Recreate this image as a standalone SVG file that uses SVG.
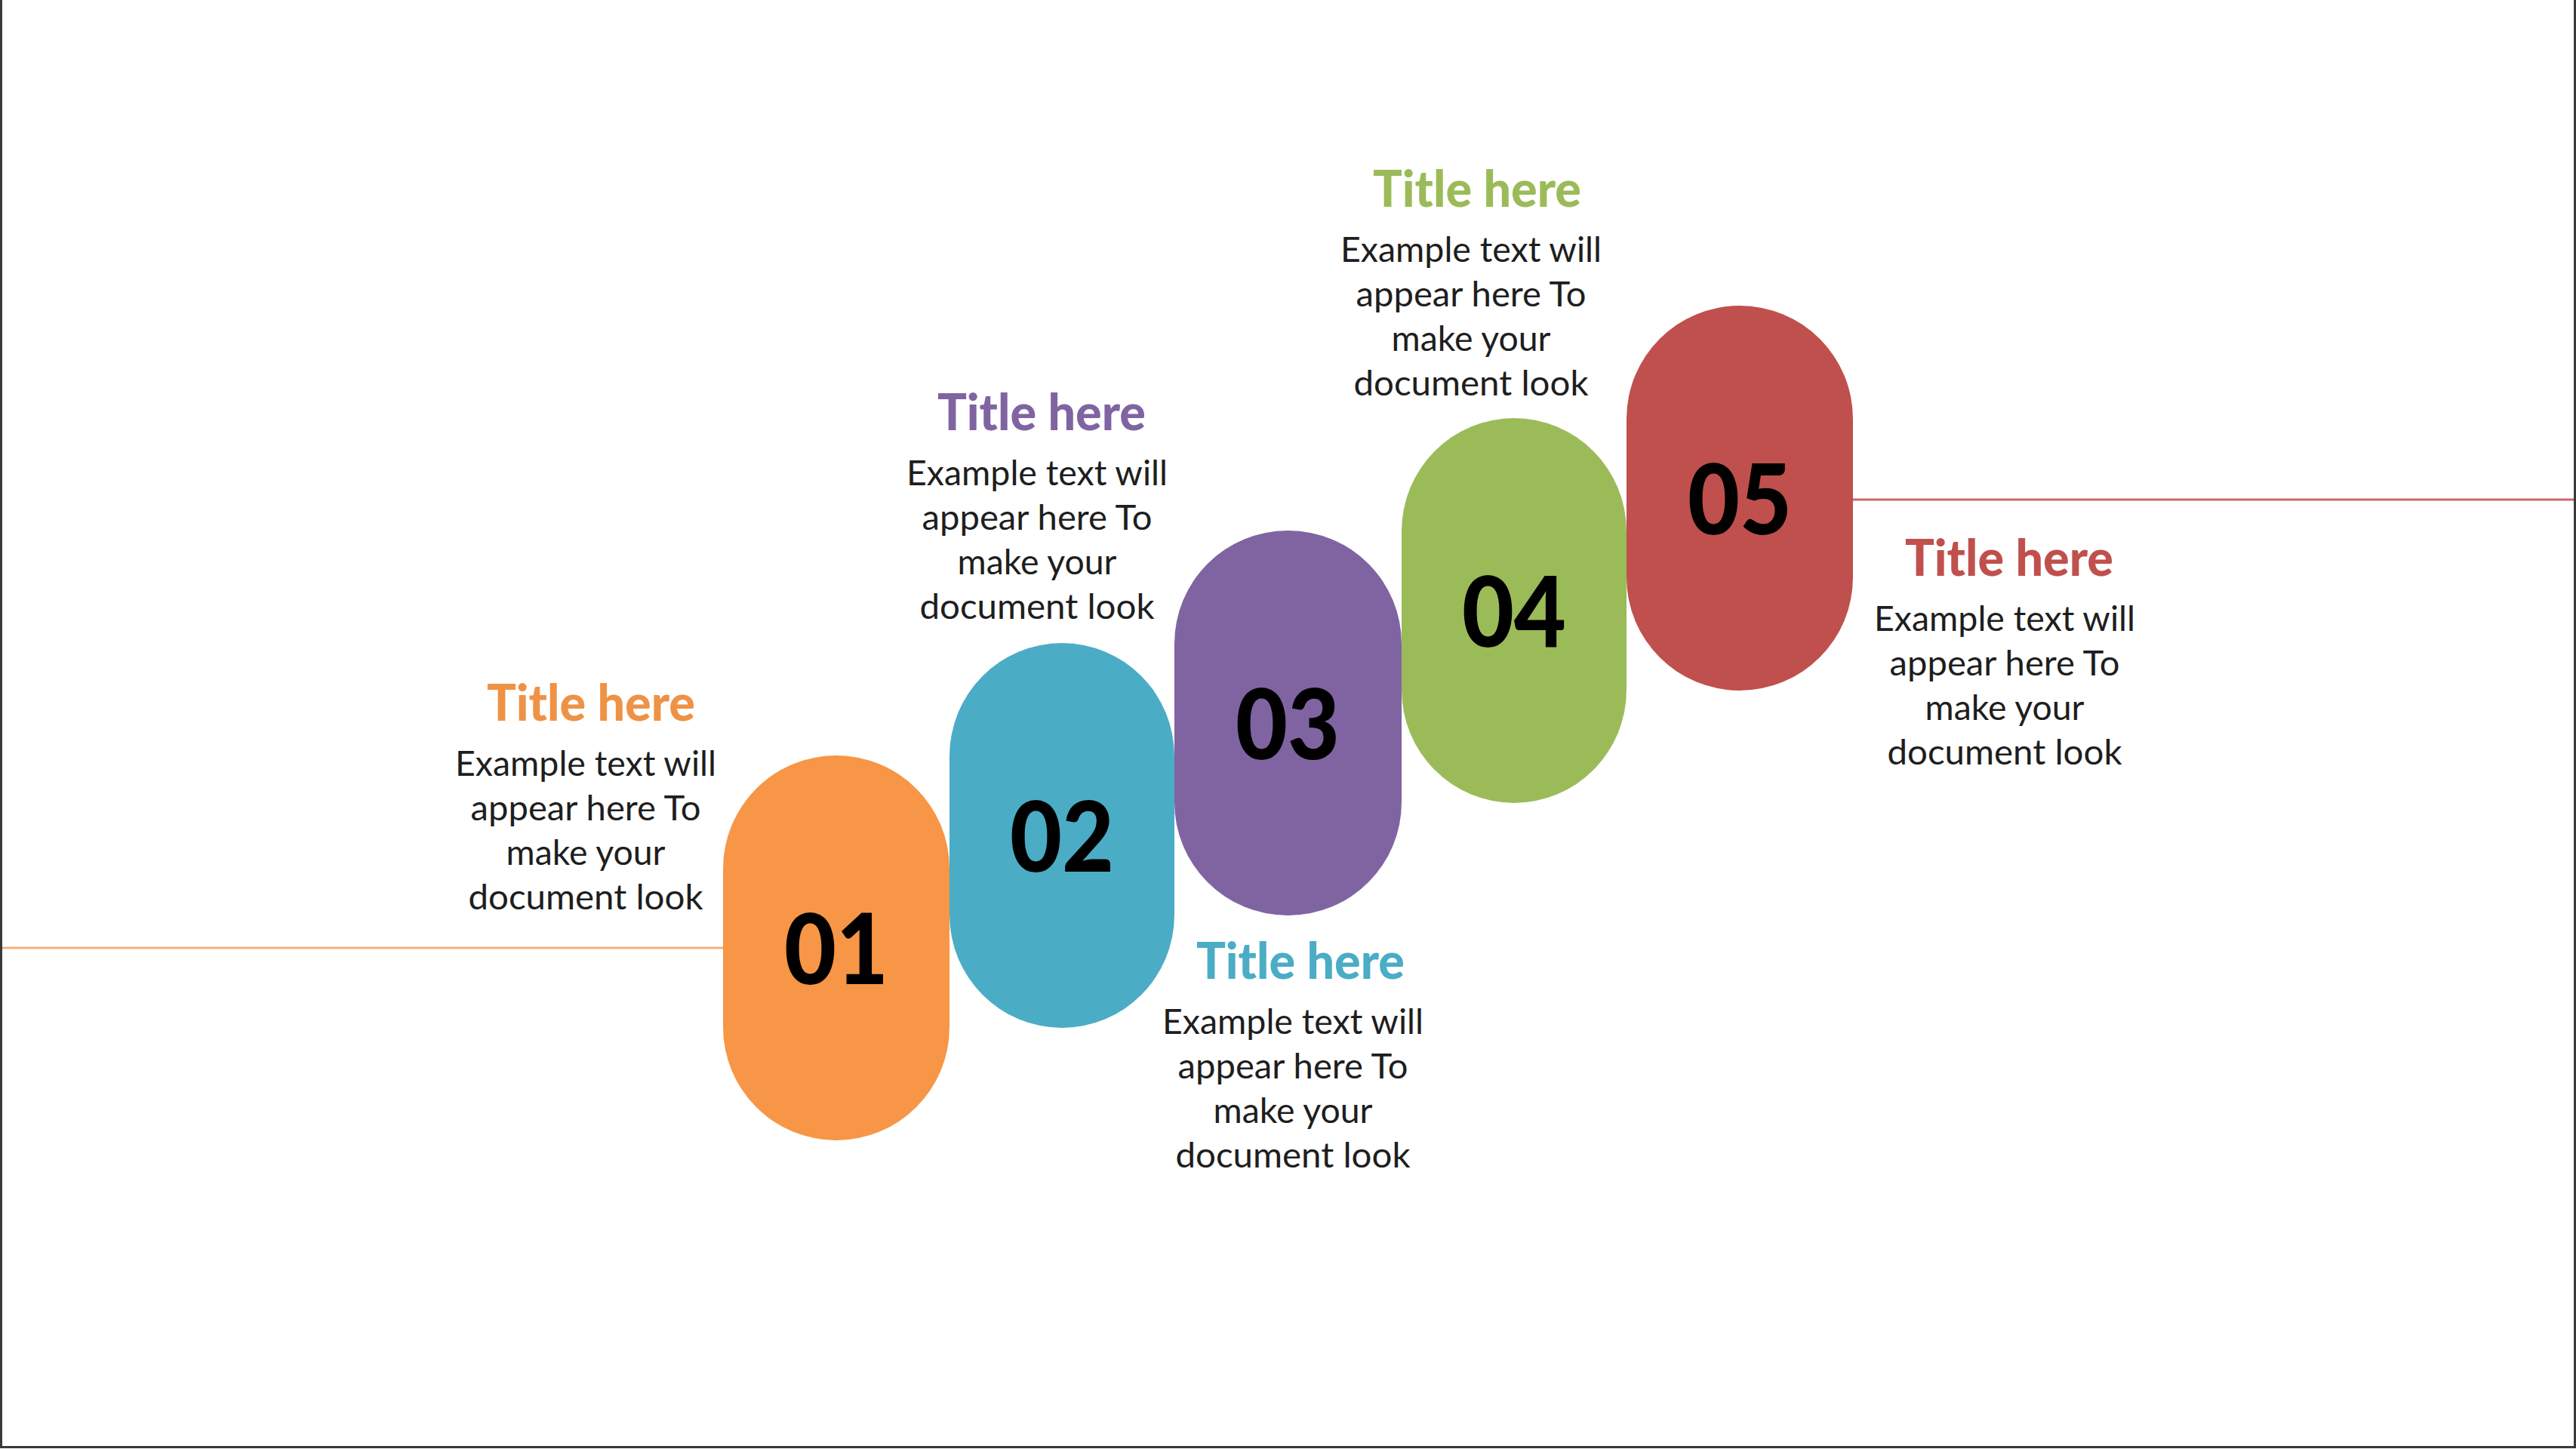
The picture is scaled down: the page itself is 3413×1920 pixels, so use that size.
<svg xmlns="http://www.w3.org/2000/svg" width="3413" height="1920" viewBox="0 0 3413 1920">
<style>
.pill{stroke:none}
.num{font-family:Lato,"Liberation Sans",sans-serif;font-weight:900;font-size:130px;fill:#000;text-anchor:middle}
.title{font-family:Lato,"Liberation Sans",sans-serif;font-weight:900;font-size:66px;text-anchor:middle}
.body{font-family:Lato,"Liberation Sans",sans-serif;font-size:47px;fill:#1e1e1e;text-anchor:middle}
.conn{fill:none;stroke-width:3}
</style>
<rect x="0" y="0" width="3413" height="1920" fill="#ffffff"/>
<g id="frame" fill="none" stroke="#3a3a3a" stroke-width="3">
<path d="M1.5,0 V1917.5 H3411.5 V0"/>
</g>
<g id="connectors">
<line class="conn" x1="3" y1="1256" x2="958" y2="1256" stroke="#F2B07C"/>
<line class="conn" x1="2455" y1="662" x2="3410" y2="662" stroke="#C86A67"/>
</g>
<g id="step01">
<rect class="pill" x="958" y="1001" width="300" height="510" rx="150" ry="150" fill="#F79646"/>
<text class="num" x="1108" y="1304" textLength="138" lengthAdjust="spacingAndGlyphs">01</text>
<text class="title" x="783" y="955" fill="#EE9246" textLength="276" lengthAdjust="spacingAndGlyphs">Title here</text>
<text class="body" x="776" y="1028" textLength="346" lengthAdjust="spacingAndGlyphs">Example text will</text>
<text class="body" x="776" y="1087" textLength="305" lengthAdjust="spacingAndGlyphs">appear here To</text>
<text class="body" x="776" y="1146" textLength="211" lengthAdjust="spacingAndGlyphs">make your</text>
<text class="body" x="776" y="1205" textLength="311" lengthAdjust="spacingAndGlyphs">document look</text>
</g>
<g id="step02">
<rect class="pill" x="1258" y="852" width="298" height="510" rx="149" ry="150" fill="#4BACC6"/>
<text class="num" x="1407" y="1155" textLength="138" lengthAdjust="spacingAndGlyphs">02</text>
<text class="title" x="1723" y="1297" fill="#4BACC6" textLength="276" lengthAdjust="spacingAndGlyphs">Title here</text>
<text class="body" x="1713" y="1370" textLength="346" lengthAdjust="spacingAndGlyphs">Example text will</text>
<text class="body" x="1713" y="1429" textLength="305" lengthAdjust="spacingAndGlyphs">appear here To</text>
<text class="body" x="1713" y="1488" textLength="211" lengthAdjust="spacingAndGlyphs">make your</text>
<text class="body" x="1713" y="1547" textLength="311" lengthAdjust="spacingAndGlyphs">document look</text>
</g>
<g id="step03">
<rect class="pill" x="1556" y="703" width="301" height="510" rx="150" ry="150" fill="#8064A2"/>
<text class="num" x="1706" y="1006" textLength="138" lengthAdjust="spacingAndGlyphs">03</text>
<text class="title" x="1380" y="570" fill="#8064A2" textLength="276" lengthAdjust="spacingAndGlyphs">Title here</text>
<text class="body" x="1374" y="643" textLength="346" lengthAdjust="spacingAndGlyphs">Example text will</text>
<text class="body" x="1374" y="702" textLength="305" lengthAdjust="spacingAndGlyphs">appear here To</text>
<text class="body" x="1374" y="761" textLength="211" lengthAdjust="spacingAndGlyphs">make your</text>
<text class="body" x="1374" y="820" textLength="311" lengthAdjust="spacingAndGlyphs">document look</text>
</g>
<g id="step04">
<rect class="pill" x="1857" y="554" width="298" height="510" rx="149" ry="150" fill="#9BBB59"/>
<text class="num" x="2006" y="857" textLength="138" lengthAdjust="spacingAndGlyphs">04</text>
<text class="title" x="1957" y="274" fill="#9BBB59" textLength="276" lengthAdjust="spacingAndGlyphs">Title here</text>
<text class="body" x="1949" y="347" textLength="346" lengthAdjust="spacingAndGlyphs">Example text will</text>
<text class="body" x="1949" y="406" textLength="305" lengthAdjust="spacingAndGlyphs">appear here To</text>
<text class="body" x="1949" y="465" textLength="211" lengthAdjust="spacingAndGlyphs">make your</text>
<text class="body" x="1949" y="524" textLength="311" lengthAdjust="spacingAndGlyphs">document look</text>
</g>
<g id="step05">
<rect class="pill" x="2155" y="405" width="300" height="510" rx="150" ry="150" fill="#C0504D"/>
<text class="num" x="2305" y="708" textLength="138" lengthAdjust="spacingAndGlyphs">05</text>
<text class="title" x="2662" y="763" fill="#C0504D" textLength="276" lengthAdjust="spacingAndGlyphs">Title here</text>
<text class="body" x="2656" y="836" textLength="346" lengthAdjust="spacingAndGlyphs">Example text will</text>
<text class="body" x="2656" y="895" textLength="305" lengthAdjust="spacingAndGlyphs">appear here To</text>
<text class="body" x="2656" y="954" textLength="211" lengthAdjust="spacingAndGlyphs">make your</text>
<text class="body" x="2656" y="1013" textLength="311" lengthAdjust="spacingAndGlyphs">document look</text>
</g>
</svg>
